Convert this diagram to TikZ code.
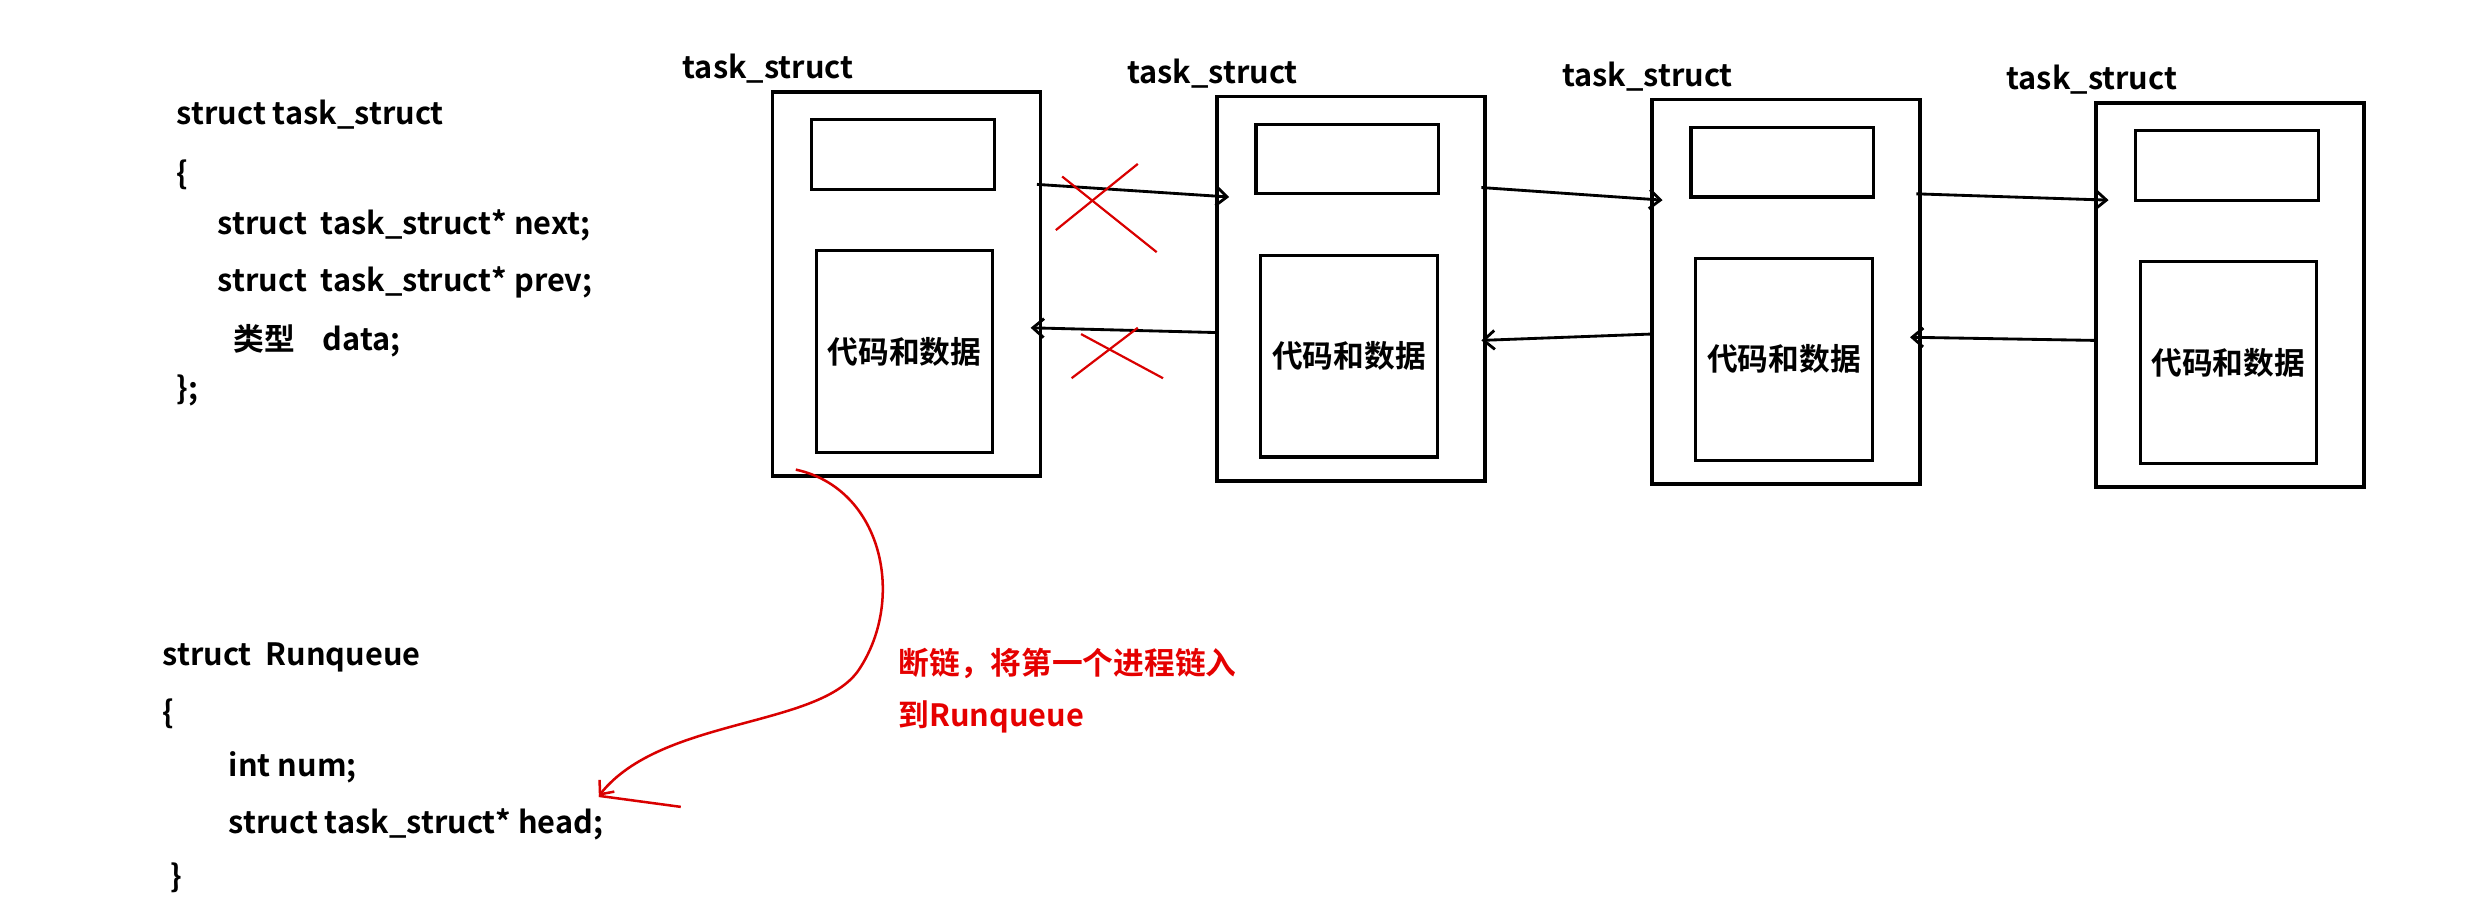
\documentclass[tikz,border=0pt]{standalone}
\usepackage{fontspec}
\setmainfont{Noto Sans CJK SC}[BoldFont={* Bold}]
\usetikzlibrary{arrows.meta}
\begin{document}
\begin{tikzpicture}[x=1pt,y=-1pt,
  txt/.style={anchor=west,font=\fontsize{19.5}{22}\selectfont\bfseries,inner sep=0},
  lbl/.style={font=\fontsize{19.5}{22}\selectfont\bfseries,inner sep=0},
  box/.style={draw,line width=2.4pt},
  sbox/.style={draw,line width=2pt},
  lnk/.style={line width=1.8pt,-{Straight Barb[length=7pt,width=12pt]}},
  red/.style={draw=red!85!black,line width=1.4pt}]
\useasboundingbox (0,0) rectangle (1568,573);
% left code
\node[txt] (a1) at (112,73) {struct task\_struct};
\node[txt] (a2) at (112,111) {\{};
\node[txt] (a3) at (138,143) {struct\ \ task\_struct* next;};
\node[txt] (a4) at (138,179) {struct\ \ task\_struct* prev;};
\node[txt] (a5) at (148,216) {类型\ \ \ \ data;};
\node[txt] (a6) at (112,248) {\};};
\node[txt] (b1) at (103,417) {struct\ \ Runqueue};
\node[txt] (b2) at (103,453) {\{};
\node[txt] (b3) at (145,487) {int num;};
\node[txt] (b4) at (145,523) {struct task\_struct* head;};
\node[txt] (b5) at (108,557) {\}};
% boxes
\foreach \i/\x/\y in {1/489/57,2/771/60,3/1047/62,4/1329/64}{
  \node[box,anchor=north west,minimum width=170pt,minimum height=244pt] (o\i) at (\x,\y) {};
  \node[sbox,anchor=north west,minimum width=116pt,minimum height=44pt] (s\i) at (\x+25,\y+18) {};
  \node[sbox,anchor=north west,minimum width=112pt,minimum height=128pt,label={[lbl]center:代码和数据}] (d\i) at (\x+28,\y+101) {};
  \node[lbl,anchor=south west] (t\i) at (\x-56,\y-4) {task\_struct};
}
% links
\coordinate (n1s) at (658,117); \coordinate (n1e) at (780,125);
\coordinate (n2s) at (940,119); \coordinate (n2e) at (1055,127);
\coordinate (n3s) at (1216,123); \coordinate (n3e) at (1338,127);
\coordinate (p1s) at (771,211); \coordinate (p1e) at (654,208);
\coordinate (p2s) at (1047,212); \coordinate (p2e) at (940,216);
\coordinate (p3s) at (1329,216); \coordinate (p3e) at (1212,214);
\foreach \a in {n1,n2,n3,p1,p2,p3} \draw[lnk] (\a s) -- (\a e);
% red X's
\draw[red] (674,112) -- (734,160); \draw[red] (670,146) -- (722,104);
\draw[red] (686,212) -- (738,240); \draw[red] (680,240) -- (722,208);
% red curve
\coordinate (c0) at (505,298); \coordinate (c1) at (380,505); \coordinate (c2) at (432,512);
\draw[red,line width=1.6pt,-{Straight Barb[length=7pt,width=12pt]}] (c0) .. controls (560,310) and (575,380) .. (545,425) .. controls (520,462) and (420,455) .. (c1);
\draw[red,line width=1.6pt] (c1) -- (c2);
\node[txt,text=red!90!black] (r1) at (570,421) {断链，将第一个进程链入};
\node[txt,text=red!90!black] (r2) at (570,455) {到Runqueue};
\end{tikzpicture}
\end{document}
